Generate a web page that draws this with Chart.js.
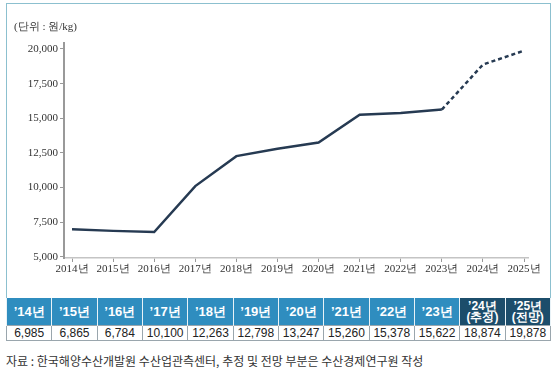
<!DOCTYPE html>
<html>
<head>
<meta charset="utf-8">
<script src="https://cdn.jsdelivr.net/npm/chart.js@4"></script>
<style>
    body { margin: 0; width: 559px; height: 374px; background: #fff; position: relative; overflow: hidden; }
    .chart-box { position: absolute; left: 6px; top: 3px; width: 543px; height: 294px; border: 1.5px solid #8cc0cf; border-bottom: none; }
    #priceChart { position: absolute; left: 0; top: 0; }
    .unit { position: absolute; left: 14px; top: 19px; font: 11px "Liberation Serif", serif; color: #333; }
    .data-table { position: absolute; left: 6px; top: 298px; width: 545px; border-collapse: collapse; table-layout: fixed; font-family: "Liberation Sans", Arial, sans-serif; }
    .data-table th { background: #2f8dbf; color: #fff; font-size: 13px; font-weight: bold; height: 27px; padding: 0; border-left: 1px solid #e8f2f7; border-right: 1px solid #e8f2f7; line-height: 12px; }
    .data-table th.est { background: #1c4d6b; font-size: 12px; line-height: 11px; }
    .data-table td { text-align: center; font-size: 12px; color: #222; height: 14px; padding: 0; border: 1px solid #9aa6ad; }
    .note { position: absolute; left: 6px; top: 352px; font: 12px "Noto Sans CJK KR", sans-serif; color: #333; }
</style>
</head>
<body>
<div class="chart-box"></div>
<canvas id="priceChart" width="559" height="298"></canvas>
<div class="unit">(단위 : 원/kg)</div>
<table class="data-table" id="tabelaPreco"><thead><tr id="headRow"></tr></thead><tbody><tr id="valRow"></tr></tbody></table>
<div class="note">자료 : 한국해양수산개발원 수산업관측센터, 추정 및 전망 부분은 수산경제연구원 작성</div>
<script>
// dados
const years = [2014, 2015, 2016, 2017, 2018, 2019, 2020, 2021, 2022, 2023, 2024, 2025];
const prices = [6985, 6865, 6784, 10100, 12263, 12798, 13247, 15260, 15378, 15622, 18874, 19878];
const notes = ['', '', '', '', '', '', '', '', '', '', '(추정)', '(전망)'];
const yTicks = [5000, 7500, 10000, 12500, 15000, 17500, 20000];
const lastActual = 2023;

// tabela
const headRow = document.getElementById('headRow');
const valRow = document.getElementById('valRow');
years.forEach((y, i) => {
    const th = document.createElement('th');
    const label = '\u2019' + String(y).slice(2) + '년';
    th.innerHTML = notes[i] ? label + '<br>' + notes[i] : label;
    if (notes[i]) th.className = 'est';
    headRow.appendChild(th);
    const td = document.createElement('td');
    td.textContent = prices[i].toLocaleString('en-US');
    valRow.appendChild(td);
});

const ctx = document.getElementById('priceChart').getContext('2d');
new Chart(ctx, {
    type: 'line',
    data: {
        datasets: [{
            data: years.map((y, i) => ({ x: y, y: prices[i] })),
            borderColor: '#263a52',
            borderWidth: 2.5,
            pointRadius: 0,
            tension: 0,
            fill: false,
            segment: {
                borderDash: c => c.p0.parsed.x >= lastActual ? [4, 3] : undefined
            }
        }]
    },
    options: {
        responsive: false,
        animation: false,
        layout: { padding: { top: 43, right: 31, left: 0, bottom: 0 } },
        plugins: { legend: { display: false }, tooltip: { enabled: false } },
        scales: {
            x: {
                type: 'linear',
                min: 2013.805,
                max: 2025.097,
                afterBuildTicks: s => { s.ticks = years.map(v => ({ value: v })); },
                afterFit: s => { s.height = 40; },
                border: { color: '#c4c4c4', width: 1.5 },
                grid: { drawOnChartArea: false, tickLength: 4, color: '#999' },
                ticks: {
                    color: '#333',
                    padding: 1,
                    maxRotation: 0,
                    font: { family: '"Liberation Serif", serif', size: 11 },
                    callback: v => v + '년'
                }
            },
            y: {
                min: 4906,
                max: 20433,
                afterBuildTicks: s => { s.ticks = yTicks.map(v => ({ value: v })); },
                afterFit: s => { s.width = 64; },
                border: { color: '#999', width: 2 },
                grid: { drawOnChartArea: false, tickLength: 4, color: '#999' },
                ticks: {
                    color: '#333',
                    padding: 2,
                    font: { family: '"Liberation Serif", serif', size: 11 },
                    callback: v => v.toLocaleString('en-US')
                }
            }
        }
    }
});
</script>
</body>
</html>
